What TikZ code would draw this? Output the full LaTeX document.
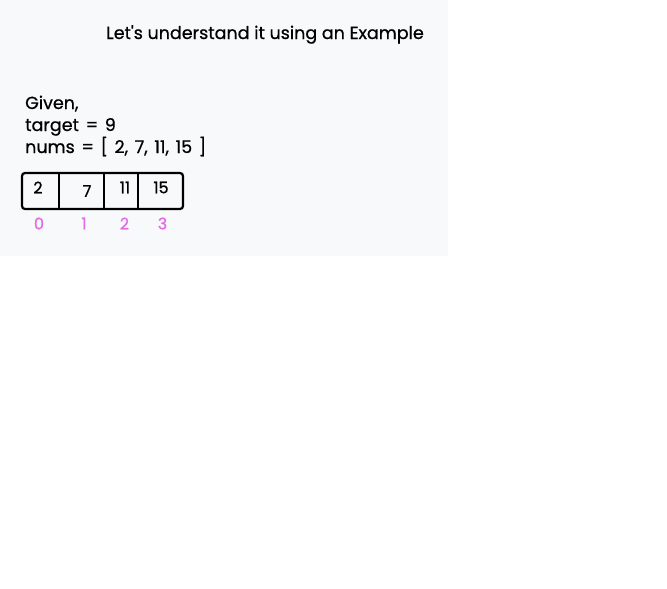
\documentclass[tikz,border=0pt]{standalone}
\usepackage{fontspec}
\newfontfamily\handfont{Poppins}[FakeBold=0.7]
\newcommand\givenfont{\handfont\fontsize{17.5}{20}\selectfont\spaceskip 6.6pt\relax}
\usetikzlibrary{positioning}
\definecolor{panelgray}{RGB}{248,249,250}
\definecolor{idxpink}{RGB}{224,108,230}
\tikzstyle{heading}=[font=\handfont\fontsize{17.5}{20}\selectfont, anchor=base, inner sep=0pt]
\tikzstyle{given}=[font=\givenfont, anchor=base west, inner sep=0pt]
\tikzstyle{cellnum}=[font=\handfont\fontsize{16}{18}\selectfont, inner sep=0pt]
\tikzstyle{index}=[font=\handfont\fontsize{16}{18}\selectfont, text=idxpink, inner sep=0pt]
\tikzstyle{arraybox}=[draw, line width=2.2pt, rounded corners=3pt, minimum width=161pt, minimum height=36pt, inner sep=0pt]
\tikzstyle{divider}=[draw, line width=1.8pt]

\begin{document}
\begin{tikzpicture}[x=1pt,y=-1pt]
\useasboundingbox (0,0) rectangle (667,589);
\fill[panelgray] (0,0) rectangle (448,256);

% Heading
\node[heading] (title) at (265,39) {Let's understand it using an Example};

% Given
\foreach \pos/\name/\txt in {{(25,109)/given/{Given,}}, {(25,131)/target/{target = 9}}, {(25,153)/nums/{nums = [ 2, 7, 11, 15 ]}}}
    \node[given] (\name) at \pos {\txt};

% Array
\node[arraybox] (arr) at (102.5,191) {};
\foreach \x/\name in {59/d1, 104/d2, 138/d3}
    \coordinate (\name) at (\x,0);
\foreach \name in {d1, d2, d3}
    \path[divider] (arr.north -| \name) -- (arr.south -| \name);

\foreach \pos/\name/\val in {{(38,187.5)/v0/2}, {(87,191)/v1/7}, {(125,187.5)/v2/11}, {(161,187.5)/v3/15}}
    \node[cellnum] (\name) at \pos {\val};

%Index
\foreach \pos/\name/\val in {{(39,223.5)/i0/0}, {(84,223.5)/i1/1}, {(124.5,223.5)/i2/2}, {(162.5,223.5)/i3/3}}
    \node[index] (\name) at \pos {\val};

\end{tikzpicture}
\end{document}
